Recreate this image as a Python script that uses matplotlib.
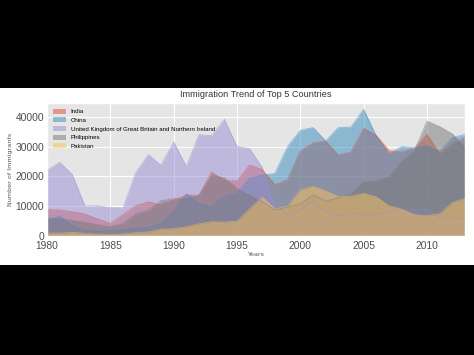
import matplotlib.pyplot as plt
from matplotlib.patches import Rectangle
import numpy as np

plt.style.use("ggplot")

years = list(range(1980, 2014))
countries = ["India", "China", "United Kingdom of Great Britain and Northern Ireland",
             "Philippines", "Pakistan"]
india = [8880, 8670, 8147, 7338, 5704, 4211, 7150, 10189, 11522, 10343, 12041, 13734,
         13673, 21496, 18620, 18489, 23859, 22268, 17241, 18974, 28572, 31223, 31889,
         27155, 28235, 36210, 33848, 28742, 28261, 29456, 34235, 27509, 30933, 33087]
china = [5123, 6682, 3308, 1863, 1527, 1816, 1960, 2643, 2758, 4323, 8076, 14255,
         10846, 9817, 13128, 14398, 19415, 20475, 21049, 30069, 35529, 36434, 31961,
         36439, 36619, 42584, 33518, 27642, 30037, 29622, 30391, 28502, 33024, 34129]
uk = [22045, 24796, 20620, 10015, 10170, 9564, 9470, 21337, 27359, 23795, 31668, 23380,
      34123, 33720, 39231, 30145, 29322, 22965, 10367, 7045, 8840, 11728, 8046, 6797,
      7533, 7258, 7140, 8216, 8979, 8876, 8724, 6204, 6195, 5827]
philippines = [6051, 5921, 5249, 4562, 3801, 3150, 4166, 7360, 8639, 11865, 12509, 12718,
               13670, 20479, 19532, 15864, 13692, 11549, 8735, 9734, 10763, 13836, 11707,
               12758, 14004, 18139, 18400, 19837, 24887, 28573, 38617, 36765, 34315, 29544]
pakistan = [978, 972, 1201, 900, 668, 514, 691, 1072, 1334, 2261, 2470, 3079, 4071, 4777,
            4666, 4994, 9125, 13073, 9068, 9979, 15400, 16708, 15110, 13205, 13399, 14314,
            13127, 10124, 8994, 7217, 6811, 7468, 11227, 12603]
series = [india, china, uk, philippines, pakistan]
colors = ["#E24A33", "#348ABD", "#988ED5", "#777777", "#FBC15E"]

W, H = 474, 355
fig = plt.figure(figsize=(W / 100, H / 100), dpi=100, facecolor="black")
band = Rectangle((0, (H - 265) / H), 1, 177 / H, transform=fig.transFigure,
                 facecolor="white", edgecolor="none", zorder=-10)
fig.add_artist(band)

ax = fig.add_axes([47 / W, (H - 236) / H, 418 / W, 133 / H])
for vals, c, name in zip(series, colors, countries):
    ax.fill_between(years, vals, color=c, alpha=0.5, linewidth=0, label=name)
    ax.plot(years, vals, color=c, alpha=0.5, linewidth=0.6)

ax.set_xlim(1980, 2013)
ax.set_ylim(0, 44700)
ax.set_xticks([1980, 1985, 1990, 1995, 2000, 2005, 2010])
ax.set_yticks([0, 10000, 20000, 30000, 40000])
ax.tick_params(axis="x", labelsize=7.4, length=0, pad=3.5, labelcolor="#4d4d4d")
ax.tick_params(axis="y", labelsize=7.4, length=0, pad=2, labelcolor="#4d4d4d")
for lab in ax.get_xticklabels() + ax.get_yticklabels():
    lab.set_family("Liberation Sans")
ax.set_title("Immigration Trend of Top 5 Countries", fontsize=6.6,
             family="Liberation Sans", color="#333333", pad=4)
ax.set_xlabel("Years", fontsize=4.6, color="#555555", labelpad=0.5)
ax.set_ylabel("Number of Immigrants", fontsize=4.6, color="#555555", labelpad=1.5)
ax.legend(loc="upper left", prop={"family": "Liberation Sans", "size": 4.4},
          frameon=False, handlelength=2.2, handleheight=0.9, labelspacing=0.5,
          borderaxespad=0.5)

fig.savefig("out.png", dpi=100, facecolor="black")
